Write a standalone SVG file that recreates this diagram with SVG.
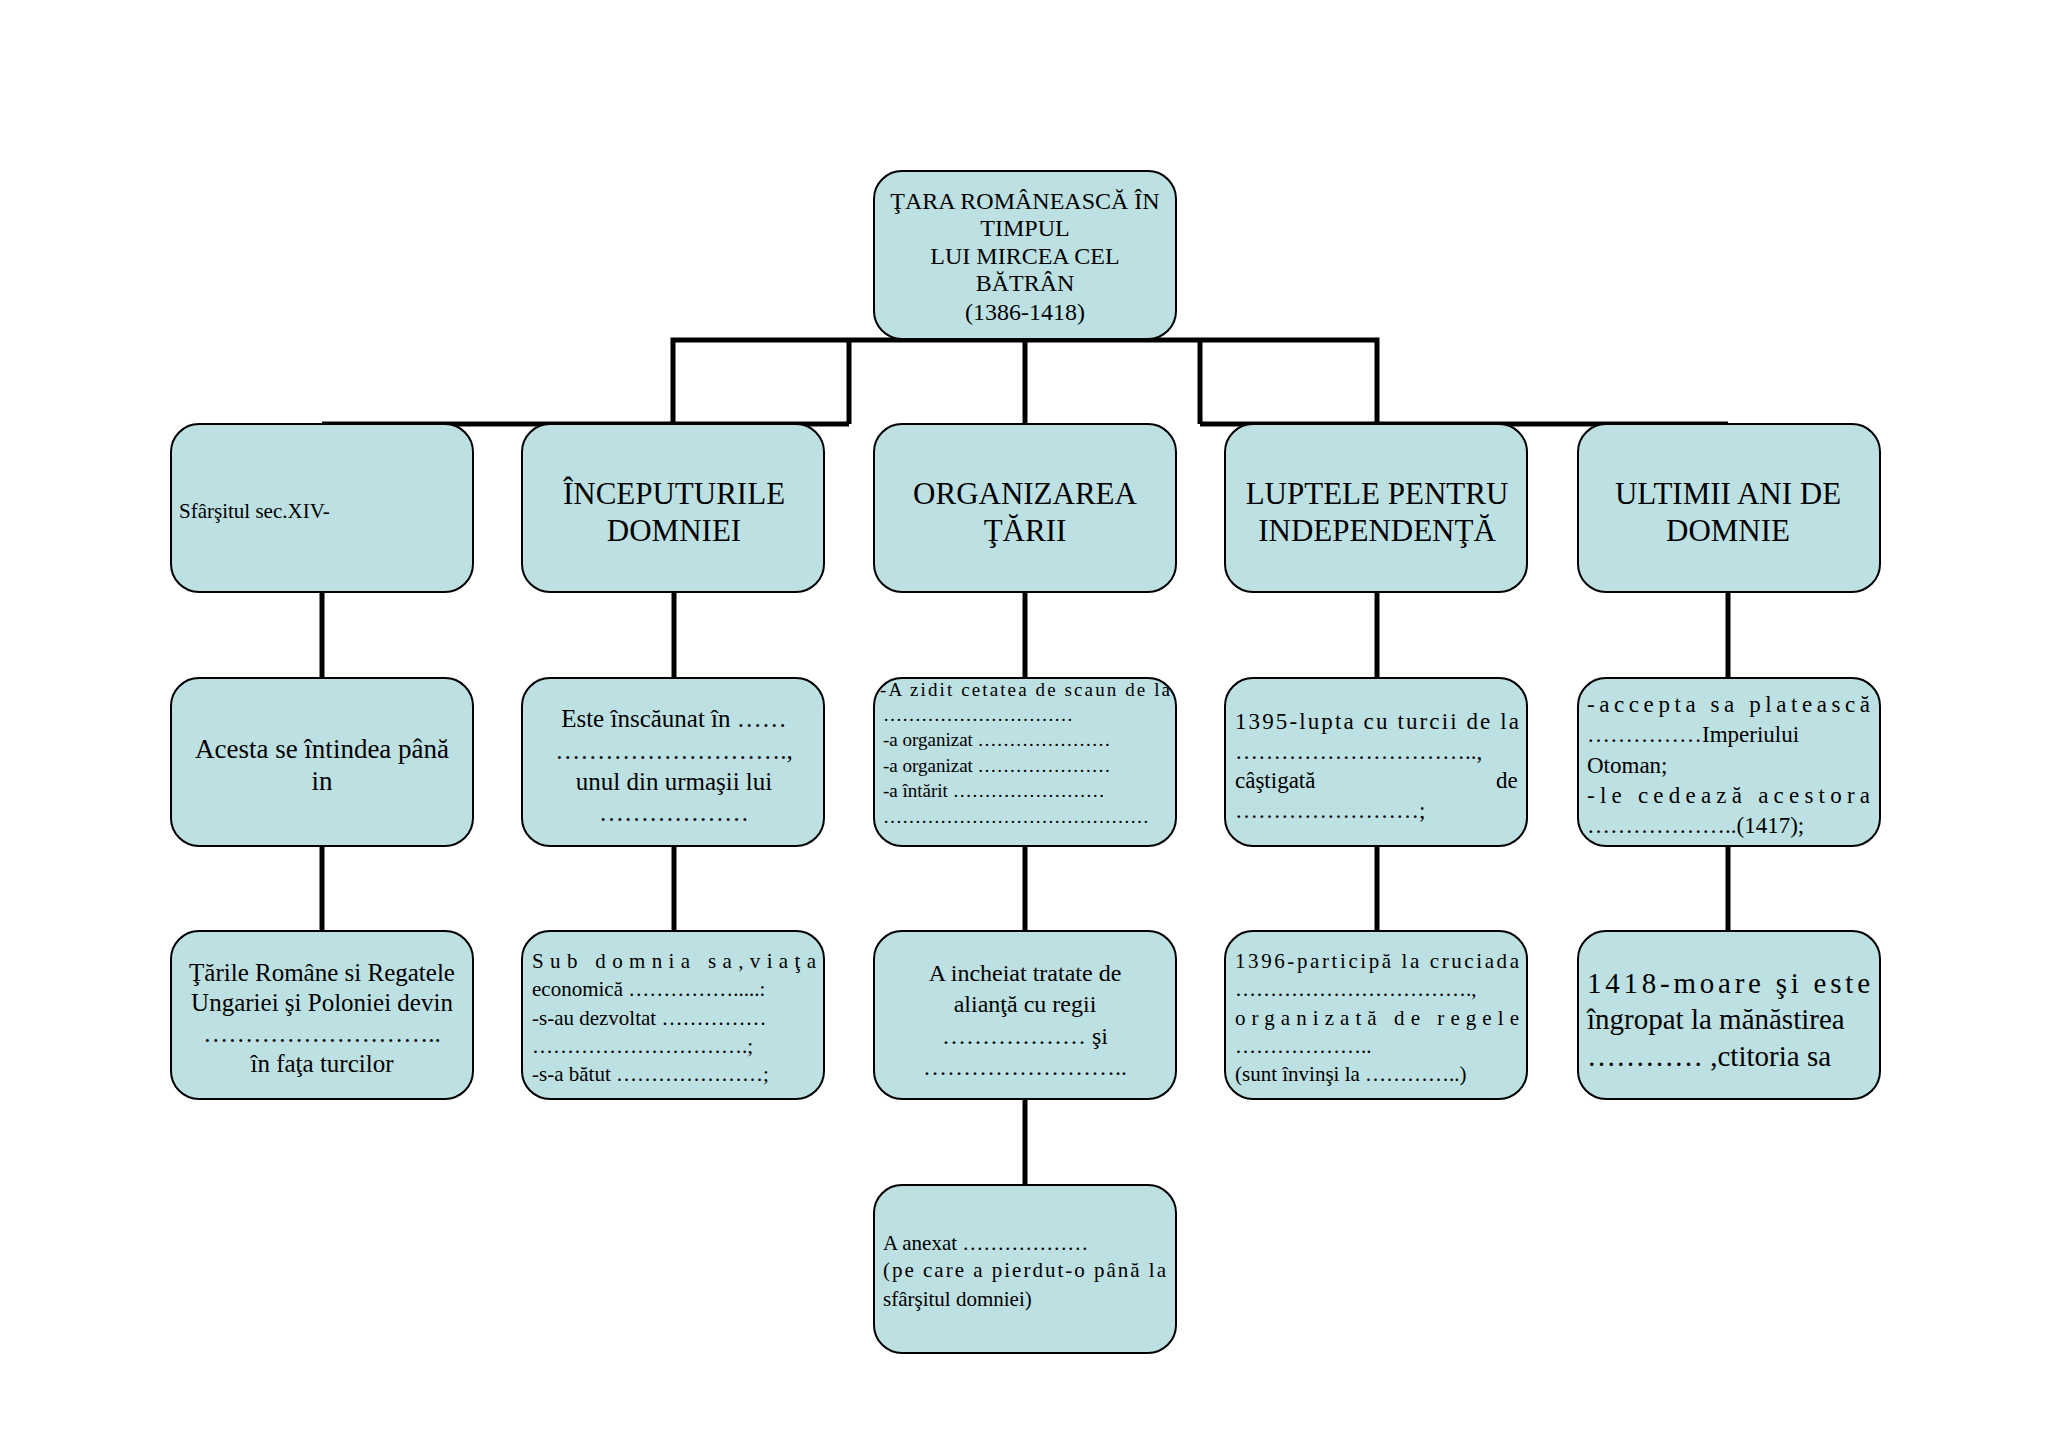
<svg xmlns="http://www.w3.org/2000/svg" width="2048" height="1447" viewBox="0 0 2048 1447">
<style>
.b{fill:#bde0e3;stroke:#000;stroke-width:2}
text{font-family:"Liberation Serif","Times New Roman",serif;fill:#000}
.c{text-anchor:middle}
.h{font-size:31px}
.s{font-size:21px}
line,polyline{stroke:#000;stroke-width:5;fill:none}
</style>
<rect width="2048" height="1447" fill="#fff"/>
<g id="connectors">
<polyline points="673,424 673,340 1377,340 1377,424"/>
<line x1="849" y1="340" x2="849" y2="424"/>
<line x1="322" y1="424" x2="849" y2="424"/>
<line x1="1025" y1="340" x2="1025" y2="424"/>
<line x1="1200" y1="340" x2="1200" y2="424"/>
<line x1="1200" y1="424" x2="1728" y2="424"/>
<line x1="322" y1="592" x2="322" y2="678"/><line x1="322" y1="846" x2="322" y2="931"/>
<line x1="674" y1="592" x2="674" y2="678"/><line x1="674" y1="846" x2="674" y2="931"/>
<line x1="1025" y1="592" x2="1025" y2="678"/><line x1="1025" y1="846" x2="1025" y2="931"/><line x1="1025" y1="1099" x2="1025" y2="1185"/>
<line x1="1377" y1="592" x2="1377" y2="678"/><line x1="1377" y1="846" x2="1377" y2="931"/>
<line x1="1728" y1="592" x2="1728" y2="678"/><line x1="1728" y1="846" x2="1728" y2="931"/>
</g>
<g id="top"><rect class="b" x="874" y="171" width="302" height="168" rx="28"/>
<text class="c" font-size="24"><tspan x="1025" y="209">ŢARA ROMÂNEASCĂ ÎN</tspan><tspan x="1025" y="236">TIMPUL</tspan><tspan x="1025" y="264">LUI MIRCEA CEL</tspan><tspan x="1025" y="291">BĂTRÂN</tspan><tspan x="1025" y="320">(1386-1418)</tspan></text></g>
<g id="h1"><rect class="b" x="171" y="424" width="302" height="168" rx="28"/><text class="s" x="179" y="518">Sfârşitul sec.XIV-</text></g>
<g id="h2"><rect class="b" x="522" y="424" width="302" height="168" rx="28"/><text class="c h"><tspan x="674" y="504">ÎNCEPUTURILE</tspan><tspan x="674" y="541">DOMNIEI</tspan></text></g>
<g id="h3"><rect class="b" x="874" y="424" width="302" height="168" rx="28"/><text class="c h"><tspan x="1025" y="504">ORGANIZAREA</tspan><tspan x="1025" y="541">ŢĂRII</tspan></text></g>
<g id="h4"><rect class="b" x="1225" y="424" width="302" height="168" rx="28"/><text class="c h"><tspan x="1377" y="504">LUPTELE PENTRU</tspan><tspan x="1377" y="541">INDEPENDENŢĂ</tspan></text></g>
<g id="h5"><rect class="b" x="1578" y="424" width="302" height="168" rx="28"/><text class="c h"><tspan x="1728" y="504">ULTIMII ANI DE</tspan><tspan x="1728" y="541">DOMNIE</tspan></text></g>
<g id="r2c1"><rect class="b" x="171" y="678" width="302" height="168" rx="28"/><text class="c" font-size="27"><tspan x="322" y="758">Acesta se întindea  până</tspan><tspan x="322" y="790">in</tspan></text></g>
<g id="r2c2"><rect class="b" x="522" y="678" width="302" height="168" rx="28"/><text class="c" font-size="25"><tspan x="674" y="727">Este înscăunat în ……</tspan><tspan x="674" y="759">……………………….,</tspan><tspan x="674" y="790">unul din urmaşii lui</tspan><tspan x="674" y="821">………………</tspan></text></g>
<g id="r2c3"><rect class="b" x="874" y="678" width="302" height="168" rx="28"/><text font-size="19"><tspan x="880" y="696" textLength="290" lengthAdjust="spacing">-A zidit cetatea de scaun de la</tspan><tspan x="883" y="721">…………………………</tspan><tspan x="883" y="746">-a organizat …………………</tspan><tspan x="883" y="772">-a organizat …………………</tspan><tspan x="883" y="797">-a întărit ……………………</tspan><tspan x="883" y="823">……………………………………</tspan></text></g>
<g id="r2c4"><rect class="b" x="1225" y="678" width="302" height="168" rx="28"/><text font-size="23"><tspan x="1235" y="729" textLength="284" lengthAdjust="spacing">1395-lupta cu turcii de la</tspan><tspan x="1235" y="759">…………………………..,</tspan><tspan x="1235" y="788">câştigată</tspan><tspan x="1496" y="788">de</tspan><tspan x="1235" y="818">……………………;</tspan></text></g>
<g id="r2c5"><rect class="b" x="1578" y="678" width="302" height="168" rx="28"/><text font-size="23"><tspan x="1587" y="712" textLength="283" lengthAdjust="spacing">-accepta sa platească</tspan><tspan x="1587" y="742">……………Imperiului</tspan><tspan x="1587" y="773">Otoman;</tspan><tspan x="1587" y="803" textLength="283" lengthAdjust="spacing">-le cedează acestora</tspan><tspan x="1587" y="833">………………..(1417);</tspan></text></g>
<g id="r3c1"><rect class="b" x="171" y="931" width="302" height="168" rx="28"/><text class="c" font-size="25"><tspan x="322" y="981">Ţările Române si Regatele</tspan><tspan x="322" y="1011">Ungariei şi Poloniei devin</tspan><tspan x="322" y="1042">………………………..</tspan><tspan x="322" y="1072">în faţa turcilor</tspan></text></g>
<g id="r3c2"><rect class="b" x="522" y="931" width="302" height="168" rx="28"/><text class="s"><tspan x="532" y="968" textLength="284" lengthAdjust="spacing">Sub domnia sa,viaţa</tspan><tspan x="532" y="996">economică …………….....:</tspan><tspan x="532" y="1025">-s-au dezvoltat ……………</tspan><tspan x="532" y="1053">………………………….;</tspan><tspan x="532" y="1081">-s-a bătut …………………;</tspan></text></g>
<g id="r3c3"><rect class="b" x="874" y="931" width="302" height="168" rx="28"/><text class="c" font-size="24"><tspan x="1025" y="981">A incheiat tratate de</tspan><tspan x="1025" y="1012">alianţă cu regii</tspan><tspan x="1025" y="1044">……………… şi</tspan><tspan x="1025" y="1075">……………………..</tspan></text></g>
<g id="r3c4"><rect class="b" x="1225" y="931" width="302" height="168" rx="28"/><text class="s"><tspan x="1235" y="968" textLength="284" lengthAdjust="spacing">1396-participă la cruciada</tspan><tspan x="1235" y="996">…………………………….,</tspan><tspan x="1235" y="1025" textLength="284" lengthAdjust="spacing">organizată de regele</tspan><tspan x="1235" y="1053">………………..</tspan><tspan x="1235" y="1081">(sunt învinşi la …………..)</tspan></text></g>
<g id="r3c5"><rect class="b" x="1578" y="931" width="302" height="168" rx="28"/><text font-size="29"><tspan x="1587" y="993" textLength="283" lengthAdjust="spacing">1418-moare şi este</tspan><tspan x="1587" y="1029">îngropat la mănăstirea</tspan><tspan x="1587" y="1066">………… ,ctitoria sa</tspan></text></g>
<g id="r4c3"><rect class="b" x="874" y="1185" width="302" height="168" rx="28"/><text class="s"><tspan x="883" y="1250">A anexat ………………</tspan><tspan x="883" y="1277" textLength="283" lengthAdjust="spacing">(pe care a pierdut-o până la</tspan><tspan x="883" y="1306">sfârşitul domniei)</tspan></text></g>
</svg>
